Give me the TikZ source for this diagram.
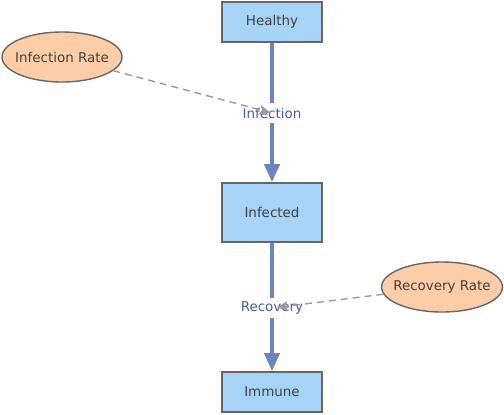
\documentclass[tikz,border=0pt]{standalone}
\usepackage{fontspec}
\setmainfont{DejaVu Sans}
\usepackage{tikz, xcolor}
\usetikzlibrary{shapes,arrows.meta}

\definecolor{stockfill}{RGB}{166,212,247}
\definecolor{ratefill}{RGB}{253,205,168}
\definecolor{flowblue}{RGB}{106,134,192}
\definecolor{flowtext}{RGB}{74,95,154}
\definecolor{edgegray}{RGB}{102,102,102}

\begin{document}
\begin{tikzpicture}[x=1bp, y=-1bp, font=\fontsize{13.5}{16}\selectfont]
\tikzstyle{stock}=[rectangle, draw=edgegray, fill=stockfill, line width=1.6bp, minimum width=100bp, text=black!75]
\tikzstyle{rate}=[ellipse, draw=edgegray, fill=ratefill, line width=1.4bp, minimum width=120bp, minimum height=50bp, inner xsep=-6bp, inner ysep=0pt, text=black!75]
\tikzstyle{flowlabel}=[text=flowtext, inner sep=1bp, minimum height=19bp]
\tikzstyle{flowstyle}=[draw=flowblue, line width=4bp]
\tikzstyle{flowarrow}=[flowstyle, -{Triangle[width=15bp,length=18bp]}]
\tikzstyle{ratestyle}=[draw=black!40, line width=1.4bp, dashed, dash pattern=on 7bp off 5bp, -{Stealth[width=10bp,length=11bp,inset=3bp]}]

\useasboundingbox (0,0) rectangle (504,414);

\node[stock, minimum height=40bp] (healthy) at (272,22) {Healthy};
\node[stock, minimum height=59bp] (infected) at (272,212.5) {Infected};
\node[stock, minimum height=40bp] (immune) at (272,392) {Immune};
\node[rate] (infrate) at (62,57) {Infection Rate};
\node[rate] (recrate) at (442,287) {Recovery Rate};
\node[flowlabel] (infection) at (272,113) {Infection};
\node[flowlabel] (recovery) at (272,308) {Recovery};

\draw[flowstyle] (healthy) -- (infection);
\draw[flowarrow] (infection) -- (infected);
\draw[flowstyle] (infected) -- (recovery);
\draw[flowarrow] (recovery) -- (immune);
\draw[ratestyle, shorten >=2bp] (infrate) -- (infection.center);
\draw[ratestyle, shorten >=5bp] (recrate) -- (recovery.center);
\end{tikzpicture}
\end{document}
